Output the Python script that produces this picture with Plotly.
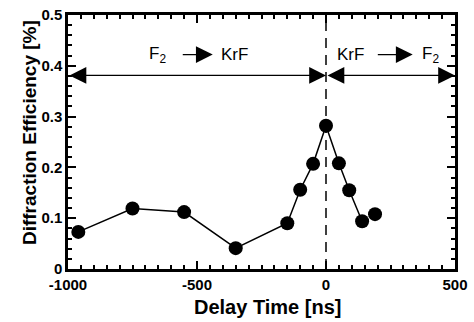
import plotly.graph_objects as go

# Diffraction efficiency vs. delay time between the F2 and KrF pulses
delay_ns = [-960, -750, -550, -350, -150, -100, -50, 0, 50, 90, 140]
efficiency = [0.073, 0.119, 0.112, 0.041, 0.090, 0.156, 0.207, 0.282, 0.208, 0.155, 0.094]
# last measurement, shown without a connecting line
extra_delay = [190]
extra_eff = [0.108]

x_ticks = [-1000, -500, 0, 500]
y_ticks = [0, 0.1, 0.2, 0.3, 0.4, 0.5]

FONT = "Liberation Sans"

fig = go.Figure()
fig.add_trace(go.Scatter(
    x=delay_ns, y=efficiency, mode="lines+markers",
    line=dict(color="black", width=1.5),
    marker=dict(color="black", size=14),
    showlegend=False,
))
fig.add_trace(go.Scatter(
    x=extra_delay, y=extra_eff, mode="markers",
    marker=dict(color="black", size=14),
    showlegend=False,
))

# dashed line at zero delay
fig.add_shape(type="line", x0=0, x1=0, y0=0, y1=0.5, xref="x", yref="y",
              line=dict(color="black", width=1.5, dash="10px,7px"))

arrow_y = 0.381
label_y = 0.422
head = dict(arrowhead=2, startarrowhead=2, arrowsize=2.8, startarrowsize=2.8,
            arrowwidth=1.2, arrowcolor="black", standoff=0, startstandoff=0)

# double-headed ranges on either side of zero
for x_from, x_to in [(-1000, 0), (0, 500)]:
    fig.add_annotation(x=x_to, y=arrow_y, ax=x_from, ay=arrow_y,
                       xref="x", yref="y", axref="x", ayref="y",
                       text="", showarrow=True, arrowside="end+start", **head)

# short arrows inside the labels
for x_from, x_to in [(-561, -439), (195, 336)]:
    fig.add_annotation(x=x_to, y=label_y, ax=x_from, ay=label_y,
                       xref="x", yref="y", axref="x", ayref="y",
                       text="", showarrow=True, arrowside="end",
                       arrowhead=2, arrowsize=2.8, arrowwidth=1.2,
                       arrowcolor="black", standoff=0)

labels = [(-653, "F<sub>2</sub>"), (-355, "KrF"), (95, "KrF"), (404, "F<sub>2</sub>")]
for lx, txt in labels:
    fig.add_annotation(x=lx, y=label_y, xref="x", yref="y", text=txt,
                       showarrow=False, yanchor="middle",
                       font=dict(family=FONT, size=17, color="black"))

# axis titles
fig.add_annotation(x=-0.13, y=0.536, xref="paper", yref="paper",
                   text="Diffraction Efficiency [%]", textangle=-90,
                   showarrow=False,
                   font=dict(family=FONT, size=19, color="black", weight="bold"))
fig.add_annotation(x=0.515, y=-0.15, xref="paper", yref="paper",
                   text="Delay Time [ns]", showarrow=False, yanchor="middle",
                   font=dict(family=FONT, size=20, color="black", weight="bold"))

axis_common = dict(
    showline=True, linecolor="black", linewidth=2.5, mirror="ticks",
    ticks="inside", ticklen=8, tickwidth=2, tickcolor="black",
    showgrid=False, zeroline=False,
    tickfont=dict(family=FONT, size=15, color="black", weight="bold"),
)

fig.update_xaxes(range=[-1000, 500], tickvals=x_ticks,
                 ticktext=[str(v) for v in x_ticks],
                 minor=dict(dtick=50, ticks="inside", ticklen=4, tickwidth=1.5,
                            tickcolor="black", showgrid=False),
                 **axis_common)
fig.update_yaxes(range=[0, 0.5], tickvals=y_ticks,
                 ticktext=["0", "0.1", "0.2", "0.3", "0.4", "0.5"],
                 minor=dict(dtick=0.02, ticks="inside", ticklen=4, tickwidth=1.5,
                            tickcolor="black", showgrid=False),
                 **axis_common)

fig.update_layout(
    width=474, height=322,
    margin=dict(l=68, r=13, t=6, b=53),
    paper_bgcolor="white", plot_bgcolor="white",
)

fig.write_html("out.html")
